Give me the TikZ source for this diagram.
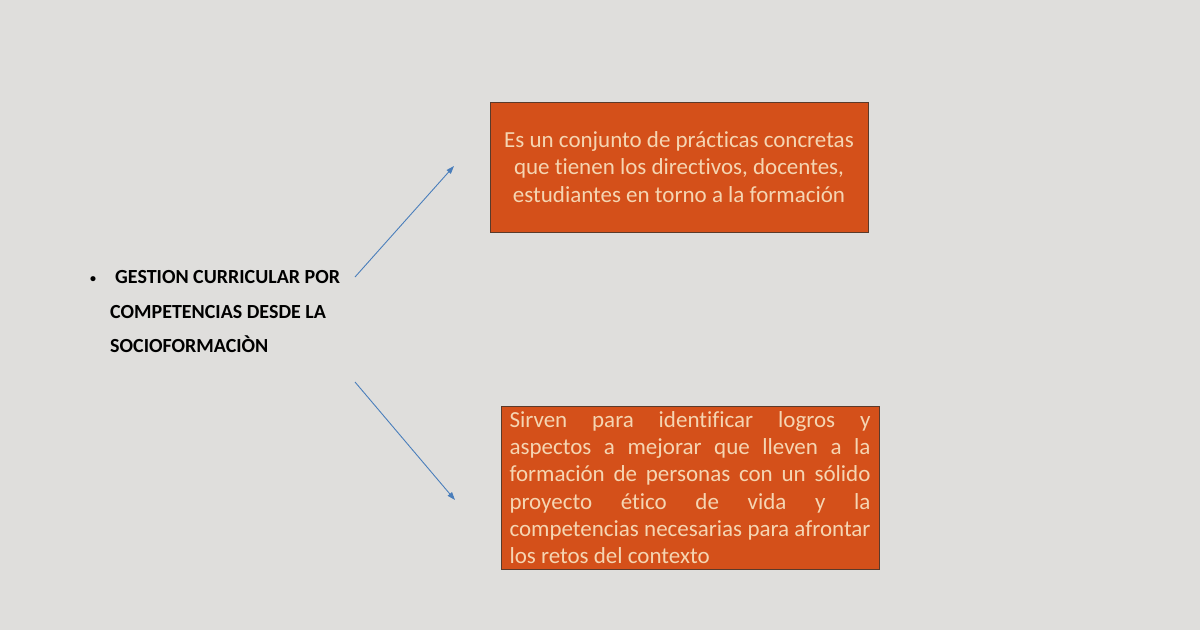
\documentclass[tikz,border=0pt]{standalone}
\usepackage{fontspec}
\setmainfont{Carlito}[Ligatures={NoCommon}]
\usetikzlibrary{arrows.meta}
\definecolor{bg}{HTML}{DFDEDC}
\definecolor{boxfill}{HTML}{D4501A}
\definecolor{boxline}{HTML}{5A3A2A}
\definecolor{boxtext}{HTML}{F5D5B2}
\definecolor{arrowc}{HTML}{4A7EBB}
\tikzset{
  box/.style={draw=boxline, line width=0.8pt, fill=boxfill, text=boxtext, inner sep=0pt,
    font=\fontsize{23}{27.2}\selectfont},
  conn/.style={draw=arrowc, line width=0.9pt, -{Triangle[length=8pt,width=5.5pt]}},
  lefttext/.style={inner sep=0pt, anchor=north west, align=left, text=black,
    font=\bfseries\fontsize{20}{34.5}\selectfont}
}
\begin{document}
\begin{tikzpicture}[x=1pt,y=-1pt]
\fill[bg] (0,0) rectangle (1200,630);
\useasboundingbox (0,0) rectangle (1200,630);
\node[box, minimum width=378pt, minimum height=130pt, align=center] (b1) at (679,167)
  {Es un conjunto de prácticas concretas\\que tienen los directivos, docentes,\\estudiantes en torno a la formación};
\node[box, minimum width=378pt, minimum height=163pt, text width=361pt, align=justify] (b2) at (690,487.5)
  {Sirven para identificar logros y\linebreak aspectos a mejorar que lleven a la\linebreak formación de personas con un sólido\linebreak proyecto ético de vida y la\linebreak competencias necesarias para afrontar\linebreak los retos del contexto};
\node[lefttext] (t) at (90,270.5)
  {\makebox[25pt][l]{\raisebox{1pt}{\fontsize{12}{12}\selectfont\textbullet}}GESTION CURRICULAR POR\\\hspace*{20pt}COMPETENCIAS DESDE LA\\\hspace*{20pt}SOCIOFORMACIÒN};
\coordinate (s1) at (355,277);
\coordinate (e1) at (454,166);
\coordinate (s2) at (355,382);
\coordinate (e2) at (455,500);
\draw[conn] (s1) -- (e1);
\draw[conn] (s2) -- (e2);
\end{tikzpicture}
\end{document}
